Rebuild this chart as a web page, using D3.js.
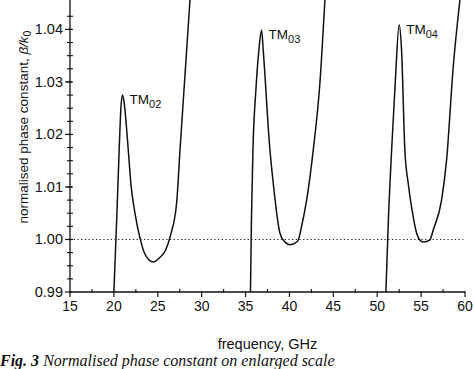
<!DOCTYPE html>
<html>
<head>
<meta charset="utf-8">
<script src="https://cdn.jsdelivr.net/npm/d3@7"></script>
<style>
  body { margin: 0; background: #fff; }
  text { font-family: "Liberation Sans", Arial, sans-serif; fill: #111; }
</style>
</head>
<body>
<script>
// values (frequency in GHz, beta/k0)
var tm02Freq = [20.0, 20.35, 20.6, 20.8, 20.99, 21.2, 21.64, 21.95, 22.4, 22.97, 23.54, 24.49, 25.25, 25.9, 26.45, 27.15, 27.53, 28.1, 28.67];
var tm02Beta = [0.99, 1.0052, 1.0170, 1.0250, 1.0275, 1.0256, 1.0170, 1.0104, 1.0050, 1.0003, 0.9972, 0.9957, 0.9966, 0.9980, 1.0008, 1.0070, 1.0170, 1.0313, 1.0456];

var tm03Freq = [35.56, 35.67, 35.84, 36.18, 36.52, 36.83, 37.01, 37.78, 38.15, 38.92, 39.49, 40.06, 40.63, 41.0, 41.42, 41.96, 42.71, 43.47, 44.04];
var tm03Beta = [0.99, 1.0037, 1.0170, 1.0285, 1.0361, 1.0399, 1.0361, 1.0170, 1.0108, 1.0012, 0.9995, 0.9990, 0.9993, 0.9999, 1.0028, 1.0075, 1.0170, 1.0298, 1.0456];

var tm04Freq = [50.99, 51.27, 51.64, 52.07, 52.5, 52.77, 53.15, 53.52, 54.1, 54.49, 54.86, 55.24, 55.77, 56.0, 56.38, 57.33, 57.9, 58.66, 59.42];
var tm04Beta = [0.99, 1.0037, 1.0170, 1.0304, 1.0409, 1.0361, 1.0170, 1.0108, 1.0043, 1.0012, 0.9999, 0.9995, 0.9997, 0.9999, 1.0018, 1.0075, 1.0151, 1.0329, 1.0456];

var modeNames = ["02", "03", "04"];
var xTicks = [15, 20, 25, 30, 35, 40, 45, 50, 55, 60];
var yTicks = [0.99, 1.00, 1.01, 1.02, 1.03, 1.04];

var W = 474, H = 369;
var margin = {left: 70, top: 0, right: 9, bottom: 77};
var iw = W - margin.left - margin.right;
var ih = H - margin.top - margin.bottom;

var svg = d3.select('body').append('svg').attr('width', W).attr('height', H);
var g = svg.append('g').attr('transform', 'translate(' + margin.left + ',' + margin.top + ')');

var x = d3.scaleLinear().domain([15, 60]).range([0, iw]);
var y = d3.scaleLinear().domain([0.99, 1.0456]).range([ih, 0]);

g.append('clipPath').attr('id', 'clip')
  .append('rect').attr('x', 0).attr('y', 0).attr('width', iw).attr('height', ih);

// dotted reference at 1.00
g.append('line')
  .attr('x1', 0).attr('x2', x(59.8))
  .attr('y1', y(1.0)).attr('y2', y(1.0))
  .attr('stroke', '#222').attr('stroke-width', 1.1)
  .attr('stroke-dasharray', '1.3,2.4');

var line = d3.line()
  .x(function (d) { return x(d[0]); })
  .y(function (d) { return y(d[1]); })
  .curve(d3.curveMonotoneX);

var modes = [
  d3.zip(tm02Freq, tm02Beta),
  d3.zip(tm03Freq, tm03Beta),
  d3.zip(tm04Freq, tm04Beta)
];

g.append('g').attr('clip-path', 'url(#clip)')
  .selectAll('path').data(modes).enter().append('path')
  .attr('d', line)
  .attr('fill', 'none').attr('stroke', '#111').attr('stroke-width', 1.5);

// peak labels
modes.forEach(function (pts, i) {
  var peak = d3.greatest(pts.slice(0, 8), function (d) { return d[1]; });
  var t = g.append('text')
    .attr('x', x(peak[0]) + 7)
    .attr('y', y(peak[1]) + 9)
    .attr('font-size', 13.5);
  t.append('tspan').text('TM');
  t.append('tspan').attr('dy', 4).attr('font-size', 11).text(modeNames[i]);
});

// x axis
var xAxis = g.append('g').attr('transform', 'translate(0,' + ih + ')');
xAxis.append('line').attr('x1', 0).attr('x2', iw).attr('stroke', '#111').attr('stroke-width', 1.3);
xAxis.selectAll('.maj').data(xTicks).enter().append('line')
  .attr('x1', function (d) { return x(d); }).attr('x2', function (d) { return x(d); })
  .attr('y1', -1).attr('y2', 5).attr('stroke', '#111').attr('stroke-width', 1.2);
xAxis.selectAll('.min').data(d3.range(17.5, 60, 5)).enter().append('line')
  .attr('x1', function (d) { return x(d); }).attr('x2', function (d) { return x(d); })
  .attr('y1', -3).attr('y2', 1).attr('stroke', '#111').attr('stroke-width', 1.1);
xAxis.selectAll('text').data(xTicks).enter().append('text')
  .attr('x', function (d) { return x(d); }).attr('y', 19)
  .attr('text-anchor', 'middle').attr('font-size', 14)
  .text(function (d) { return d; });

// y axis
var yAxis = g.append('g');
yAxis.append('line').attr('y1', 0).attr('y2', ih).attr('stroke', '#111').attr('stroke-width', 1.3);
yAxis.selectAll('.maj').data(yTicks).enter().append('line')
  .attr('y1', function (d) { return y(d); }).attr('y2', function (d) { return y(d); })
  .attr('x1', -5).attr('x2', 2).attr('stroke', '#111').attr('stroke-width', 1.2);
yAxis.selectAll('.min').data(d3.range(0.9925, 1.045, 0.0025)).enter().append('line')
  .attr('y1', function (d) { return y(d); }).attr('y2', function (d) { return y(d); })
  .attr('x1', -3).attr('x2', 3).attr('stroke', '#111').attr('stroke-width', 1.1);
yAxis.selectAll('text').data(yTicks).enter().append('text')
  .attr('x', -7).attr('y', function (d) { return y(d) + 5; })
  .attr('text-anchor', 'end').attr('font-size', 14.5)
  .text(function (d) { return d3.format('.2f')(d); });

// axis titles
svg.append('text')
  .attr('x', margin.left + x(37.5)).attr('y', 349)
  .attr('text-anchor', 'middle').attr('font-size', 14.5)
  .text('frequency, GHz');

var yt = svg.append('text')
  .attr('transform', 'translate(28,127) rotate(-90)')
  .attr('text-anchor', 'middle').attr('font-size', 13.5);
yt.append('tspan').text('normalised phase constant, ');
yt.append('tspan').attr('font-style', 'italic').text('β/k');
yt.append('tspan').attr('dy', 3).attr('font-size', 10.5).text('0');

// caption
var cap = svg.append('text')
  .attr('x', 0).attr('y', 366)
  .attr('font-size', 16).attr('font-style', 'italic')
  .style('font-family', '"Liberation Serif", "DejaVu Serif", serif');
cap.append('tspan').attr('font-weight', 'bold').text('Fig. 3 ');
cap.append('tspan').text('Normalised phase constant on enlarged scale');
</script>
</body>
</html>
